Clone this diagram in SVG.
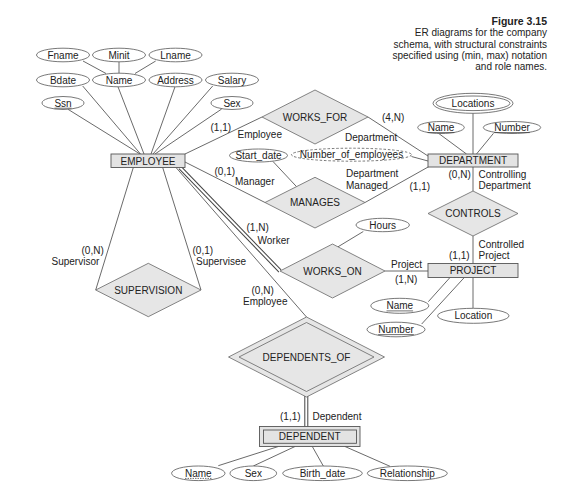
<svg xmlns="http://www.w3.org/2000/svg" width="564" height="499" viewBox="0 0 564 499">
<style>
text{font-family:"Liberation Sans",Arial,Helvetica,sans-serif;font-size:10px;fill:#222}
.m{text-anchor:middle}
.cap{text-anchor:end}
.b{font-weight:bold;font-size:10.5px}
.e{fill:#fff;stroke:#555;stroke-width:0.8}
.ed{fill:#fff;stroke:#555;stroke-width:0.8;stroke-dasharray:2.5,1.8}
.r{fill:#e3e3e3;stroke:#555;stroke-width:0.9}
.d{fill:#e6e6e6;stroke:#666;stroke-width:0.8}
.c line{stroke:#444;stroke-width:0.8}
.dbl{stroke:#444;stroke-width:4}
.dblw{stroke:#fff;stroke-width:2}
.u{stroke:#333;stroke-width:0.7}
</style>
<rect width="564" height="499" fill="#fff"/>
<g id="caption">
<text class="cap b" x="547" y="24.7">Figure 3.15</text>
<text class="cap" x="547" y="36.2">ER diagrams for the company</text>
<text class="cap" x="547" y="47.5">schema, with structural constraints</text>
<text class="cap" x="547" y="58.6">specified using (min, max) notation</text>
<text class="cap" x="547" y="69.6">and role names.</text>
</g>
<g id="connectors">
<g class="c">
<line x1="83" y1="61" x2="106" y2="73.5"/>
<line x1="119" y1="61.8" x2="119" y2="73.2"/>
<line x1="155.7" y1="61" x2="135" y2="73.5"/>
<line x1="82.7" y1="86" x2="140.5" y2="154"/>
<line x1="118" y1="86.8" x2="144" y2="154"/>
<line x1="175" y1="86.8" x2="151" y2="154"/>
<line x1="212.7" y1="86" x2="153" y2="154"/>
<line x1="68" y1="109.3" x2="140" y2="154"/>
<line x1="221.7" y1="109" x2="155" y2="154"/>
<line x1="185" y1="154" x2="262" y2="117"/>
<line x1="368" y1="117" x2="428" y2="156"/>
<line x1="185" y1="162" x2="265" y2="202.5"/>
<line x1="365" y1="202.5" x2="429" y2="166.5"/>
<line x1="273" y1="161.5" x2="296.5" y2="186.6"/>
<line x1="411.5" y1="156.5" x2="428" y2="161"/>
<line x1="473" y1="113.3" x2="473" y2="154"/>
<line x1="438.5" y1="133.3" x2="466.5" y2="154"/>
<line x1="493.5" y1="133.3" x2="476.5" y2="154"/>
<line x1="473" y1="167" x2="473" y2="191"/>
<line x1="473" y1="236" x2="473" y2="263.5"/>
<line x1="385" y1="271" x2="428" y2="271"/>
<line x1="363.3" y1="231.5" x2="338" y2="246.8"/>
<line x1="428.3" y1="301.7" x2="450" y2="277.5"/>
<line x1="421.7" y1="324" x2="464.3" y2="277.5"/>
<line x1="473" y1="277.5" x2="473" y2="308.3"/>
<line x1="133.3" y1="167.5" x2="95.7" y2="290"/>
<line x1="162.7" y1="167.5" x2="201" y2="290"/>
<line x1="176" y1="167.5" x2="306.5" y2="317"/>
<line x1="218.3" y1="465.7" x2="278.3" y2="446.5"/>
<line x1="253.3" y1="466" x2="295" y2="446.5"/>
<line x1="323.3" y1="466" x2="312.3" y2="446.5"/>
<line x1="390" y1="466.3" x2="345" y2="446.5"/>
</g>
<line class="dbl" x1="180" y1="167.5" x2="280" y2="271"/>
<line class="dblw" x1="179" y1="166.5" x2="281" y2="272"/>
<line class="dbl" x1="306.3" y1="396" x2="306.3" y2="427"/>
<line class="dblw" x1="306.3" y1="395" x2="306.3" y2="428"/>
</g>
<g id="labels">
<text x="210.5" y="131">(1,1)</text>
<text x="237.5" y="138">Employee</text>
<text x="382" y="121">(4,N)</text>
<text x="345" y="141">Department</text>
<text x="214.5" y="175">(0,1)</text>
<text x="235" y="185">Manager</text>
<text x="346" y="177">Department</text>
<text x="346" y="188.5">Managed</text>
<text x="409.5" y="189.5">(1,1)</text>
<text x="448.5" y="177.5">(0,N)</text>
<text x="478.5" y="177.5">Controlling</text>
<text x="478.5" y="188.5">Department</text>
<text x="478.5" y="247.5">Controlled</text>
<text x="478.5" y="259">Project</text>
<text x="449" y="259">(1,1)</text>
<text x="391" y="268">Project</text>
<text x="395" y="282.5">(1,N)</text>
<text x="246.5" y="231">(1,N)</text>
<text x="257.5" y="243.5">Worker</text>
<text x="251.5" y="293.5">(0,N)</text>
<text x="243" y="304.5">Employee</text>
<text x="81.5" y="253.5">(0,N)</text>
<text x="51.5" y="265">Supervisor</text>
<text x="192.5" y="253.5">(0,1)</text>
<text x="196" y="265">Supervisee</text>
<text x="280" y="420">(1,1)</text>
<text x="312.5" y="420">Dependent</text>
</g>
<g id="attr-fname"><ellipse class="e" cx="63" cy="55" rx="26.5" ry="6.8"/><text class="m" x="63" y="58.5">Fname</text></g>
<g id="attr-minit"><ellipse class="e" cx="119" cy="55" rx="26.5" ry="6.8"/><text class="m" x="119" y="58.5">Minit</text></g>
<g id="attr-lname"><ellipse class="e" cx="175.5" cy="55" rx="26.5" ry="6.8"/><text class="m" x="175.5" y="58.5">Lname</text></g>
<g id="attr-bdate"><ellipse class="e" cx="63" cy="80" rx="26.5" ry="6.8"/><text class="m" x="63" y="83.5">Bdate</text></g>
<g id="attr-name"><ellipse class="e" cx="119" cy="80" rx="26.5" ry="6.8"/><text class="m" x="119" y="83.5">Name</text></g>
<g id="attr-address"><ellipse class="e" cx="175.5" cy="80" rx="26.5" ry="6.8"/><text class="m" x="175.5" y="83.5">Address</text></g>
<g id="attr-salary"><ellipse class="e" cx="232" cy="80" rx="26.5" ry="6.8"/><text class="m" x="232" y="83.5">Salary</text></g>
<g id="attr-ssn"><ellipse class="e" cx="63" cy="103" rx="21" ry="6.5"/><text class="m" x="63" y="106.5">Ssn</text><line class="u" x1="54.4" y1="108.2" x2="71.6" y2="108.2"/></g>
<g id="attr-sex"><ellipse class="e" cx="232" cy="103" rx="21" ry="6.5"/><text class="m" x="232" y="106.5">Sex</text></g>
<g id="attr-start-date"><ellipse class="e" cx="258.5" cy="155.5" rx="29" ry="6.5"/><text class="m" x="258.5" y="159">Start_date</text></g>
<g id="attr-num-emp"><ellipse class="ed" cx="351.5" cy="154.7" rx="60" ry="6.5"/><text class="m" x="351.5" y="158.2">Number_of_employees</text></g>
<g id="attr-locations"><ellipse class="e" cx="473" cy="103.3" rx="40" ry="10"/><ellipse class="e" cx="473" cy="103.3" rx="37" ry="7.3"/><text class="m" x="473" y="106.8">Locations</text></g>
<g id="attr-dept-name"><ellipse class="e" cx="441" cy="127.5" rx="23.3" ry="6"/><text class="m" x="441" y="131">Name</text><line class="u" x1="427.6" y1="132.6" x2="454.4" y2="132.6"/></g>
<g id="attr-dept-number"><ellipse class="e" cx="512" cy="127.5" rx="28.7" ry="6"/><text class="m" x="512" y="131">Number</text><line class="u" x1="494.2" y1="132.6" x2="529.8" y2="132.6"/></g>
<g id="attr-hours"><ellipse class="e" cx="382.7" cy="225" rx="26.7" ry="6.7"/><text class="m" x="382.7" y="228.5">Hours</text></g>
<g id="attr-proj-name"><ellipse class="e" cx="399.8" cy="305.8" rx="29" ry="7.5"/><text class="m" x="399.8" y="309.3">Name</text><line class="u" x1="386.5" y1="310.9" x2="413.1" y2="310.9"/></g>
<g id="attr-proj-number"><ellipse class="e" cx="396" cy="329.5" rx="29" ry="7.3"/><text class="m" x="396" y="333">Number</text><line class="u" x1="378.2" y1="334.6" x2="413.8" y2="334.6"/></g>
<g id="attr-location"><ellipse class="e" cx="473.3" cy="315.8" rx="35.7" ry="7.5"/><text class="m" x="473.3" y="319.3">Location</text></g>
<g id="attr-dep-name"><ellipse class="e" cx="198.3" cy="473.3" rx="26.7" ry="7.3"/><text class="m" x="198.3" y="476.8">Name</text><line class="u" x1="185" y1="478.4" x2="211.6" y2="478.4" stroke-dasharray="1.5,1"/></g>
<g id="attr-dep-sex"><ellipse class="e" cx="253.3" cy="473.3" rx="23.3" ry="7.3"/><text class="m" x="253.3" y="476.8">Sex</text></g>
<g id="attr-birth-date"><ellipse class="e" cx="322.5" cy="473.3" rx="39.8" ry="7.3"/><text class="m" x="322.5" y="476.8">Birth_date</text></g>
<g id="attr-relationship"><ellipse class="e" cx="407.3" cy="473.3" rx="40" ry="7.3"/><text class="m" x="407.3" y="476.8">Relationship</text></g>
<g id="employee"><rect class="r" x="111" y="154" width="74" height="13.5"/><text class="m" x="148" y="164.5">EMPLOYEE</text></g>
<g id="department"><rect class="r" x="428" y="154" width="90" height="13"/><text class="m" x="473" y="164.2">DEPARTMENT</text></g>
<g id="project"><rect class="r" x="428" y="263.5" width="90" height="14"/><text class="m" x="473" y="274.2">PROJECT</text></g>
<g id="dependent"><rect class="r" x="259.5" y="426.5" width="100.5" height="20"/><rect class="r" x="263.5" y="430" width="93" height="13.3"/><text class="m" x="309.7" y="440.3">DEPENDENT</text></g>
<g id="works-for"><polygon class="d" points="262,117 315,90 368,117 315,144"/><text class="m" x="315" y="120.5">WORKS_FOR</text></g>
<g id="manages"><polygon class="d" points="265,202.5 315,177.3 365,202.5 315,228"/><text class="m" x="315" y="206">MANAGES</text></g>
<g id="controls"><polygon class="d" points="428,213.5 473,191 518,213.5 473,236"/><text class="m" x="473" y="217">CONTROLS</text></g>
<g id="works-on"><polygon class="d" points="280,271 332.5,244 385,271 332.5,298"/><text class="m" x="332.5" y="274.5">WORKS_ON</text></g>
<g id="supervision"><polygon class="d" points="95.7,290 148.3,263.3 201,290 148.3,316.7"/><text class="m" x="148.3" y="293.5">SUPERVISION</text></g>
<g id="dependents-of"><polygon class="d" points="228.5,357 306.5,317 384.5,357 306.5,397"/><polygon class="d" points="239,357 306.5,322.5 374,357 306.5,391.5"/><text class="m" x="306.5" y="360.5">DEPENDENTS_OF</text></g>
</svg>
